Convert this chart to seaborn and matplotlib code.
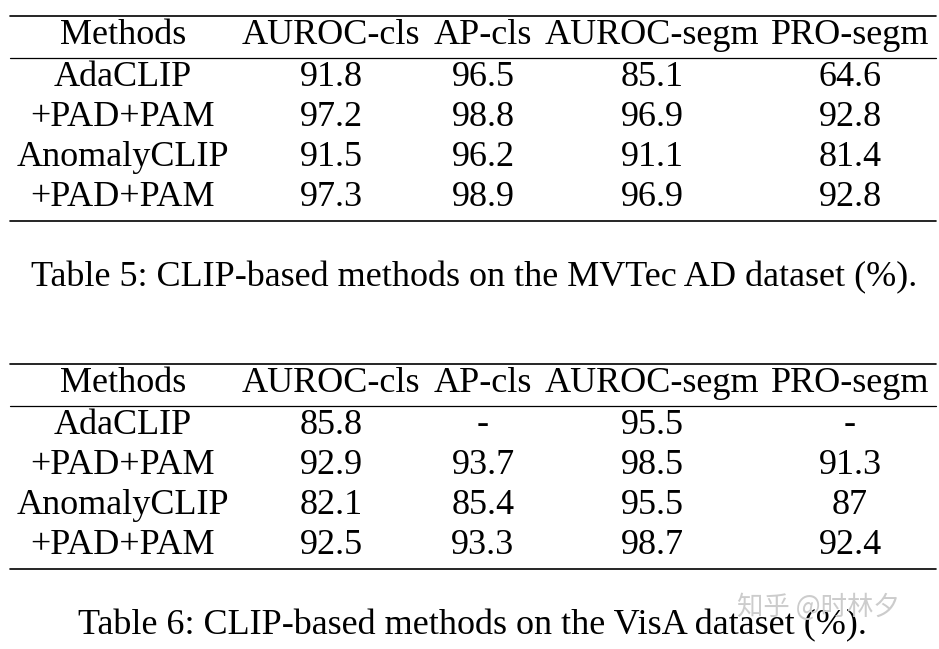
import matplotlib
matplotlib.use("Agg")
import matplotlib.pyplot as plt
import seaborn as sns

sns.set_theme(style="white")
plt.rcParams['font.family'] = ['Liberation Serif', 'DejaVu Serif']
plt.rcParams['text.color'] = 'black'

columns = ["Methods", "AUROC-cls", "AP-cls", "AUROC-segm", "PRO-segm"]
methods = ["AdaCLIP", "+PAD+PAM", "AnomalyCLIP", "+PAD+PAM"]
mvtec_auroc_cls = ["91.8", "97.2", "91.5", "97.3"]
mvtec_ap_cls = ["96.5", "98.8", "96.2", "98.9"]
mvtec_auroc_segm = ["85.1", "96.9", "91.1", "96.9"]
mvtec_pro_segm = ["64.6", "92.8", "81.4", "92.8"]
visa_auroc_cls = ["85.8", "92.9", "82.1", "92.5"]
visa_ap_cls = ["-", "93.7", "85.4", "93.3"]
visa_auroc_segm = ["95.5", "98.5", "95.5", "98.7"]
visa_pro_segm = ["-", "91.3", "87", "92.4"]
caption1 = "Table 5: CLIP-based methods on the MVTec AD dataset (%)."
caption2 = "Table 6: CLIP-based methods on the VisA dataset (%)."

fig = plt.figure(figsize=(9.39, 6.49), dpi=100)
ax = fig.add_axes([0, 0, 1, 1])
ax.set_xlim(0, 939)
ax.set_ylim(649, 0)
ax.axis("off")

col_x = [123, 331, 483, 652, 850]
fs = 26

def table(y0, cols):
    ax.plot([10, 936], [y0 - 20, y0 - 20], color="black", lw=1.2)
    ax.plot([10, 936], [y0 + 22, y0 + 22], color="black", lw=0.9)
    for x, c in zip(col_x, columns):
        ax.text(x, y0, c, ha="center", va="center", fontsize=fs, color="black")
    rows = [methods] + cols
    for i in range(4):
        y = y0 + 41 + i * 40
        for x, col in zip(col_x, rows):
            ax.text(x, y, col[i], ha="center", va="center", fontsize=fs, color="black")
    ax.plot([10, 936], [y0 + 185, y0 + 185], color="black", lw=1.2)

table(36, [mvtec_auroc_cls, mvtec_ap_cls, mvtec_auroc_segm, mvtec_pro_segm])
table(384, [visa_auroc_cls, visa_ap_cls, visa_auroc_segm, visa_pro_segm])

ax.text(474, 278, caption1, ha="center", va="center", fontsize=fs, color="black")
ax.text(472, 626, caption2, ha="center", va="center", fontsize=fs, color="black")
ax.text(818, 607, "知乎 @时林夕", ha="center", va="center", fontsize=19,
        color="#cccccc", family=['Noto Sans CJK SC', 'DejaVu Sans'])

fig.savefig("out.png", dpi=100)
